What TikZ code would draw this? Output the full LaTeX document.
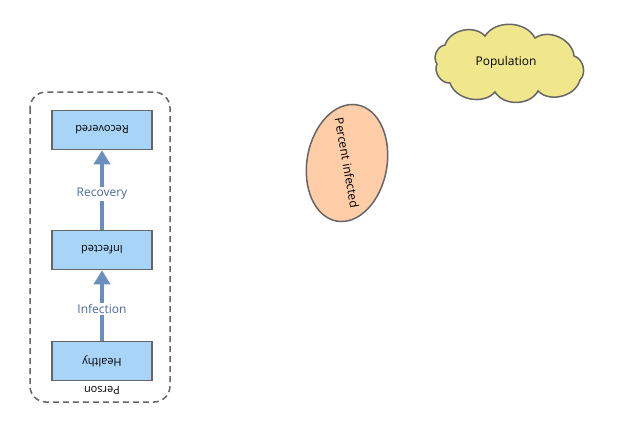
\documentclass[tikz,border=0pt]{standalone}
\usepackage{fontspec}
\setmainfont{Open Sans}
\usetikzlibrary{shapes.geometric,arrows.meta}
\definecolor{boxblue}{HTML}{A8D4F8}
\definecolor{edge}{HTML}{666666}
\definecolor{arr}{HTML}{6C8EBF}
\definecolor{labc}{HTML}{4A6AA5}
\definecolor{peach}{HTML}{FFCDA8}
\definecolor{yel}{HTML}{F0E68C}
\tikzset{
  st/.style={draw=edge,line width=1.5pt,fill=boxblue,minimum width=100pt,minimum height=39pt,inner sep=0pt,font=\fontsize{11}{13}\selectfont,rotate=180},
  ar/.style={draw=arr,line width=3.5pt,-{Triangle[length=14pt,width=16pt]}},
  lab/.style={fill=white,text=labc,font=\fontsize{12}{14}\selectfont,inner sep=1.5pt},
  puff/.style={bend left=60}
}
\begin{document}
\begin{tikzpicture}[x=1pt,y=-1pt]
\useasboundingbox (0,0) rectangle (623,424);
\draw[edge,line width=1.5pt,dash pattern=on 6pt off 4pt,rounded corners=16pt] (30,92) rectangle (170,402);
\node[font=\fontsize{11}{13}\selectfont,rotate=180] (person) at (102,390) {Person};
\node[st] (rec) at (102,130) {Recovered};
\node[st] (inf) at (102,250) {Infected};
\node[st] (hea) at (102,361) {Healthy};
\draw[ar] (hea) -- (inf) node[lab,pos=0.45] {Infection};
\draw[ar] (inf) -- (rec) node[lab,pos=0.45] {Recovery};
\node[ellipse,draw=edge,line width=1.5pt,fill=peach,minimum width=80pt,minimum height=118pt,rotate=-10] (pct) at (347,163) {};
\node[rotate=-80,font=\fontsize{12}{14}\selectfont] (pcttxt) at (347,163) {Percent infected};
\draw[edge,line width=1.5pt,fill=yel] (437,64) to[puff] (445,45) to[puff] (485,36) to[puff] (535,38)
  to[puff] (574,56) to[puff] (580,80) to[puff] (538,91) to[puff] (495,92) to[puff] (450,83) to[puff] cycle;
\node[font=\fontsize{12}{14}\selectfont] (pop) at (506,62) {Population};
\end{tikzpicture}
\end{document}
